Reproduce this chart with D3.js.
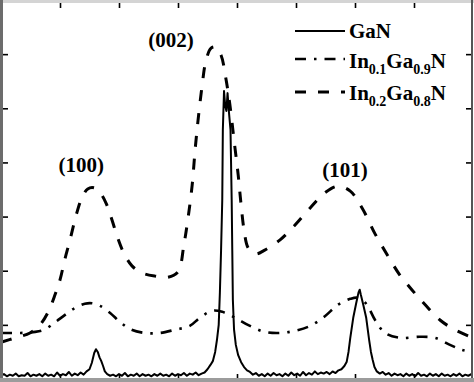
<!DOCTYPE html>
<html><head><meta charset="utf-8">
<script src="https://cdn.jsdelivr.net/npm/d3@7"></script>
<style>html,body{margin:0;padding:0;background:#fff;}svg{display:block;}</style>
</head><body>
<script>
// ---- data (2θ in degrees, intensity in arbitrary units) ----
const xTicks = [32, 33, 34, 35, 36, 37, 38];
const yTicks = [1, 2, 3, 4, 5, 6];
const seriesNames = ["GaN", "In0.1Ga0.9N", "In0.2Ga0.8N"];
const peakLabels = ["(100)", "(002)", "(101)"];
const peakLabelX = [32.36, 33.88, 36.83];
const peakLabelY = [3.82, 6.13, 3.73];

const ganX = [31.00,31.05,31.10,31.15,31.20,31.25,31.30,31.35,31.40,31.45,31.50,31.55,31.60,31.65,31.70,31.75,31.80,31.85,31.90,31.95,32.00,32.05,32.10,32.15,32.20,32.25,32.30,32.35,32.40,32.45,
 32.50,32.54,32.58,32.61,32.64,32.67,32.70,32.73,32.76,32.80,32.85,32.90,32.95,33.00,33.05,33.10,33.15,33.20,33.25,33.30,33.35,33.40,33.45,33.50,33.55,33.60,33.65,33.70,33.75,33.80,33.85,33.90,33.95,34.00,34.05,34.10,34.15,34.20,34.25,34.30,
 34.35,34.40,34.45,34.50,34.55,34.59,34.63,34.66,34.69,34.71,34.73,34.75,34.76,34.78,34.80,34.82,34.84,34.86,34.89,34.91,34.92,34.93,34.95,34.98,35.02,35.07,35.12,35.17,35.22,35.27,35.32,35.37,35.42,35.47,35.52,35.57,35.62,35.67,35.72,35.77,35.82,35.87,35.92,35.97,36.02,36.07,36.12,36.17,36.22,36.27,36.32,36.37,36.42,36.47,36.52,
 36.57,36.62,36.67,36.72,36.77,36.82,36.86,36.89,36.92,36.97,37.02,37.06,37.08,37.10,37.14,37.19,37.24,37.27,37.30,37.33,37.37,37.42,37.47,37.52,37.57,37.62,37.67,37.72,37.77,37.82,37.87,37.92,37.97,38.02,38.07,38.12,38.17,38.22,38.27,38.32,38.37,38.42,38.47,38.52,38.57,38.62,38.67,38.72,38.77,38.82,38.87,38.92,38.97,39.00];
const ganI = [0.06,0.09,0.05,0.08,0.06,0.10,0.05,0.07,0.06,0.11,0.05,0.08,0.06,0.09,0.05,0.10,0.06,0.08,0.05,0.12,0.06,0.09,0.07,0.13,0.06,0.10,0.07,0.12,0.08,0.14,
 0.18,0.30,0.48,0.55,0.50,0.40,0.33,0.24,0.14,0.09,0.06,0.08,0.05,0.09,0.06,0.11,0.05,0.08,0.06,0.10,0.05,0.09,0.06,0.08,0.05,0.09,0.06,0.10,0.06,0.08,0.05,0.10,0.06,0.09,0.07,0.11,0.06,0.10,0.08,0.12,
 0.07,0.10,0.12,0.18,0.26,0.33,0.50,0.72,1.00,1.60,2.38,3.30,4.60,5.32,5.05,4.95,5.28,4.97,4.60,3.30,2.38,1.46,0.91,0.63,0.44,0.31,0.22,0.16,0.13,0.08,0.11,0.06,0.09,0.05,0.10,0.06,0.11,0.07,0.09,0.05,0.10,0.06,0.12,0.07,0.10,0.06,0.13,0.07,0.11,0.08,0.14,0.09,0.12,0.10,0.13,
 0.09,0.14,0.11,0.16,0.18,0.24,0.32,0.50,0.76,1.13,1.40,1.60,1.65,1.55,1.37,1.13,0.72,0.50,0.35,0.22,0.14,0.10,0.13,0.08,0.11,0.06,0.10,0.07,0.09,0.05,0.10,0.06,0.09,0.05,0.11,0.06,0.08,0.05,0.10,0.06,0.09,0.05,0.10,0.06,0.08,0.05,0.09,0.06,0.10,0.05,0.08,0.06,0.09,0.06];

const in01X = [31.00,31.32,31.58,31.75,31.92,32.08,32.25,32.42,32.54,32.68,32.85,33.02,33.19,33.44,33.69,33.95,34.20,34.37,34.58,34.75,34.97,35.22,35.47,35.73,35.98,36.24,36.49,36.71,36.92,37.05,37.19,37.34,37.51,37.76,38.10,38.36,38.61,38.81,39.00];
const in01I = [0.85,0.85,0.87,0.92,1.05,1.18,1.31,1.39,1.40,1.35,1.22,1.05,0.92,0.85,0.85,0.91,0.98,1.13,1.26,1.24,1.13,0.98,0.87,0.85,0.89,0.98,1.16,1.37,1.48,1.50,1.39,1.09,0.85,0.76,0.78,0.76,0.63,0.54,0.50];

const in02X = [31.00,31.24,31.49,31.66,31.80,31.92,32.00,32.08,32.17,32.27,32.37,32.47,32.58,32.68,32.78,32.88,32.98,33.08,33.22,33.39,33.61,33.83,34.00,34.10,34.17,34.24,34.29,34.34,34.41,34.47,34.56,34.64,34.73,34.81,34.88,34.95,35.02,35.07,35.12,35.19,35.31,35.47,35.73,35.98,36.24,36.49,36.71,36.92,37.12,37.34,37.56,37.76,37.97,38.19,38.44,38.69,39.00];
const in02I = [0.68,0.76,0.85,1.00,1.24,1.57,1.83,2.20,2.57,3.01,3.34,3.51,3.53,3.44,3.25,2.94,2.60,2.33,2.09,1.96,1.90,1.88,1.98,2.48,2.97,3.58,4.23,4.78,5.43,5.86,6.11,6.13,5.98,5.56,5.06,4.41,3.77,3.21,2.75,2.42,2.31,2.38,2.57,2.84,3.16,3.44,3.56,3.47,3.16,2.68,2.27,1.92,1.64,1.37,1.09,0.91,0.76];

// ---- drawing ----
const W = 474, H = 382;
const svg = d3.select("body").append("svg").attr("width", W).attr("height", H);
const x = d3.scaleLinear().domain([31, 39]).range([1, 473]);
const y = d3.scaleLinear().domain([0, 7]).range([379, 0]);

svg.append("rect").attr("width", W).attr("height", H).attr("fill", "#fff");
svg.append("defs").append("clipPath").attr("id", "clip")
  .append("rect").attr("x", 3).attr("y", 3).attr("width", 468).attr("height", 375);

const g = svg.append("g").attr("clip-path", "url(#clip)");
const pts = (xs, ys) => xs.map((v, i) => [v, ys[i]]);
const lineLin = d3.line().x(d => x(d[0])).y(d => y(d[1]));
const lineSmooth = d3.line().x(d => x(d[0])).y(d => y(d[1])).curve(d3.curveCatmullRom.alpha(0.5));

g.append("path").attr("d", lineSmooth(pts(in02X, in02I)))
  .attr("fill", "none").attr("stroke", "#000").attr("stroke-width", 3).attr("stroke-dasharray", "11,12");
g.append("path").attr("d", lineSmooth(pts(in01X, in01I)))
  .attr("fill", "none").attr("stroke", "#000").attr("stroke-width", 2.6).attr("stroke-dasharray", "11,8,2.5,8");
g.append("path").attr("d", lineLin(pts(ganX, ganI)))
  .attr("fill", "none").attr("stroke", "#000").attr("stroke-width", 2).attr("stroke-linejoin", "round");

// frame
svg.append("rect").attr("x", 0).attr("y", 0).attr("width", W).attr("height", 3).attr("fill", "#d4d4d4");
svg.append("rect").attr("x", 0).attr("y", 0).attr("width", 3).attr("height", H).attr("fill", "#6c6c6c");
svg.append("rect").attr("x", 471).attr("y", 0).attr("width", 2).attr("height", H).attr("fill", "#555");
svg.append("rect").attr("x", 0).attr("y", 378).attr("width", W).attr("height", 4).attr("fill", "#9c9c9c");

// ticks (inward, no labels)
function styleAxis(sel) {
  sel.select(".domain").remove();
  sel.selectAll(".tick line").attr("stroke", "#000").attr("stroke-width", 1.6);
  sel.selectAll(".tick text").remove();
}
svg.append("g").attr("transform", "translate(3,0)")
  .call(d3.axisRight(y).tickValues(yTicks).tickSize(5).tickFormat("")).call(styleAxis);
svg.append("g").attr("transform", "translate(471,0)")
  .call(d3.axisLeft(y).tickValues(yTicks).tickSize(5).tickFormat("")).call(styleAxis);
svg.append("g").attr("transform", "translate(0,3)")
  .call(d3.axisBottom(x).tickValues(xTicks).tickSize(5).tickFormat("")).call(styleAxis);
svg.append("g").attr("transform", "translate(0,378)")
  .call(d3.axisTop(x).tickValues(xTicks).tickSize(4).tickFormat("")).call(styleAxis);

// peak labels
const font = "'Liberation Serif','Times New Roman',serif";
svg.selectAll("text.peak").data(peakLabels).enter().append("text")
  .attr("class", "peak")
  .attr("x", (d, i) => x(peakLabelX[i])).attr("y", (d, i) => y(peakLabelY[i]))
  .attr("text-anchor", "middle").attr("font-family", font).attr("font-weight", "bold")
  .attr("font-size", 21).text(d => d);

// legend
const legY = [31, 59, 92];
const legDash = [null, "11,8,2.5,8", "11,12"];
const legW = [2, 2.6, 3];
const legText = [
  [["GaN", 0]],
  [["In", 0], ["0.1", 1], ["Ga", 0], ["0.9", 1], ["N", 0]],
  [["In", 0], ["0.2", 1], ["Ga", 0], ["0.8", 1], ["N", 0]]
];
const textBase = [38, 68, 100];
seriesNames.forEach((name, i) => {
  const l = svg.append("line").attr("x1", 295).attr("x2", 345).attr("y1", legY[i]).attr("y2", legY[i])
    .attr("stroke", "#000").attr("stroke-width", legW[i]);
  if (legDash[i]) l.attr("stroke-dasharray", legDash[i]);
  const t = svg.append("text").attr("x", 349).attr("y", textBase[i])
    .attr("font-family", font).attr("font-weight", "bold").attr("font-size", 21);
  legText[i].forEach(([s, sub], k) => {
    const prevSub = k > 0 ? legText[i][k - 1][1] : 0;
    const ts = t.append("tspan").text(s)
      .attr("dy", sub && !prevSub ? 6 : (!sub && prevSub ? -6 : 0));
    if (sub) ts.attr("font-size", 14);
  });
});
</script>
</body></html>
